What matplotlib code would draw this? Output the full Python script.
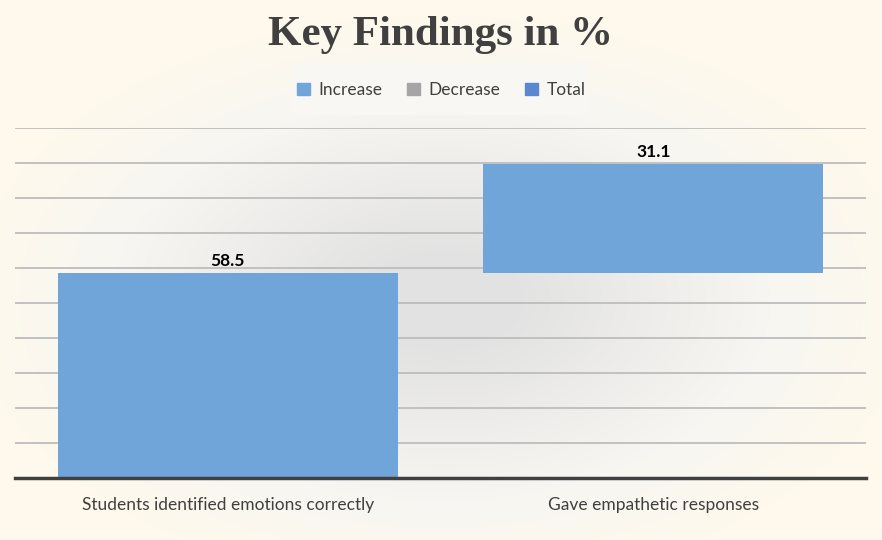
import matplotlib.pyplot as plt
import numpy as np
from matplotlib.patches import Patch, Rectangle

# waterfall data
categories = ["Students identified emotions correctly", "Gave empathetic responses"]
changes = [58.5, 31.1]
labels = ["58.5", "31.1"]
legend_names = ["Increase", "Decrease", "Total"]

bottoms = np.concatenate([[0], np.cumsum(changes)[:-1]])

c_inc = "#6fa5d8"
c_dec = "#a5a5a5"
c_tot = "#5b87cf"

fig = plt.figure(figsize=(8.82, 5.4), dpi=100)

# background: cream with soft grey centre
bg = fig.add_axes([0, 0, 1, 1], zorder=-10)
W, H = 882, 540
xx, yy = np.meshgrid(np.arange(W), np.arange(H))
r = np.sqrt(((xx - 441) / 470.0) ** 2 + ((yy - 300) / 285.0) ** 2)
cream = np.array([254, 249, 236]) / 255
white = np.array([247, 246, 242]) / 255
grey = np.array([226, 226, 226]) / 255
t1 = np.clip((r - 0.15) / 0.55, 0, 1)[..., None]
t2 = np.clip((r - 0.7) / 0.3, 0, 1)[..., None]
img = grey * (1 - t1) + white * t1
img = img * (1 - t2) + cream * t2
bg.imshow(img, aspect="auto", extent=[0, 1, 0, 1], origin="upper")
bg.axis("off")

ax = fig.add_axes([15 / 882, 1 - 478 / 540, 851 / 882, 350 / 540])
ax.set_facecolor("none")
x = np.arange(len(categories))
ax.bar(x, changes, bottom=bottoms, width=0.8, color=c_inc, zorder=3)
for xi, b, v, lab in zip(x, bottoms, changes, labels):
    ax.text(xi, b + v + 1.2, lab, ha="center", va="bottom",
            fontsize=12.5, fontweight="bold", color="black", family="Lato")

ax.set_xlim(-0.5, len(categories) - 0.5)
ax.set_ylim(0, 100)
ax.set_yticks(np.arange(10, 101, 10))
ax.yaxis.grid(True, color="#bdbdbd", linewidth=1.3, zorder=0)
ax.tick_params(axis="y", left=False, labelleft=False)
ax.tick_params(axis="x", length=0, pad=14)
ax.set_xticks(x)
ax.set_xticklabels(categories, fontsize=12.5, color="#404040", family="Lato")
for s in ["left", "right", "top"]:
    ax.spines[s].set_visible(False)
ax.spines["bottom"].set_color("#404040")
ax.spines["bottom"].set_linewidth(2.5)
ax.spines["bottom"].set_zorder(4)

fig.text(0.5, 0.935, "Key Findings in %", ha="center", va="center",
         fontsize=31, fontweight="bold", color="#404040", family="Liberation Serif")

# legend box
fig.patches.append(Rectangle((292 / 882, 1 - 115 / 540), 296 / 882, 50 / 540,
                             transform=fig.transFigure, facecolor="#f8f7f3",
                             edgecolor="none", zorder=1))
handles = [Patch(color=c_inc), Patch(color=c_dec), Patch(color=c_tot)]
fig.legend(handles, legend_names, loc="center", bbox_to_anchor=(0.5, 1 - 90 / 540),
           ncol=3, frameon=False, handlelength=0.75, handleheight=0.75,
           handletextpad=0.5, columnspacing=1.4,
           prop={"family": "Lato", "size": 12.5}, labelcolor="#404040")

fig.savefig("out.png", dpi=100)
